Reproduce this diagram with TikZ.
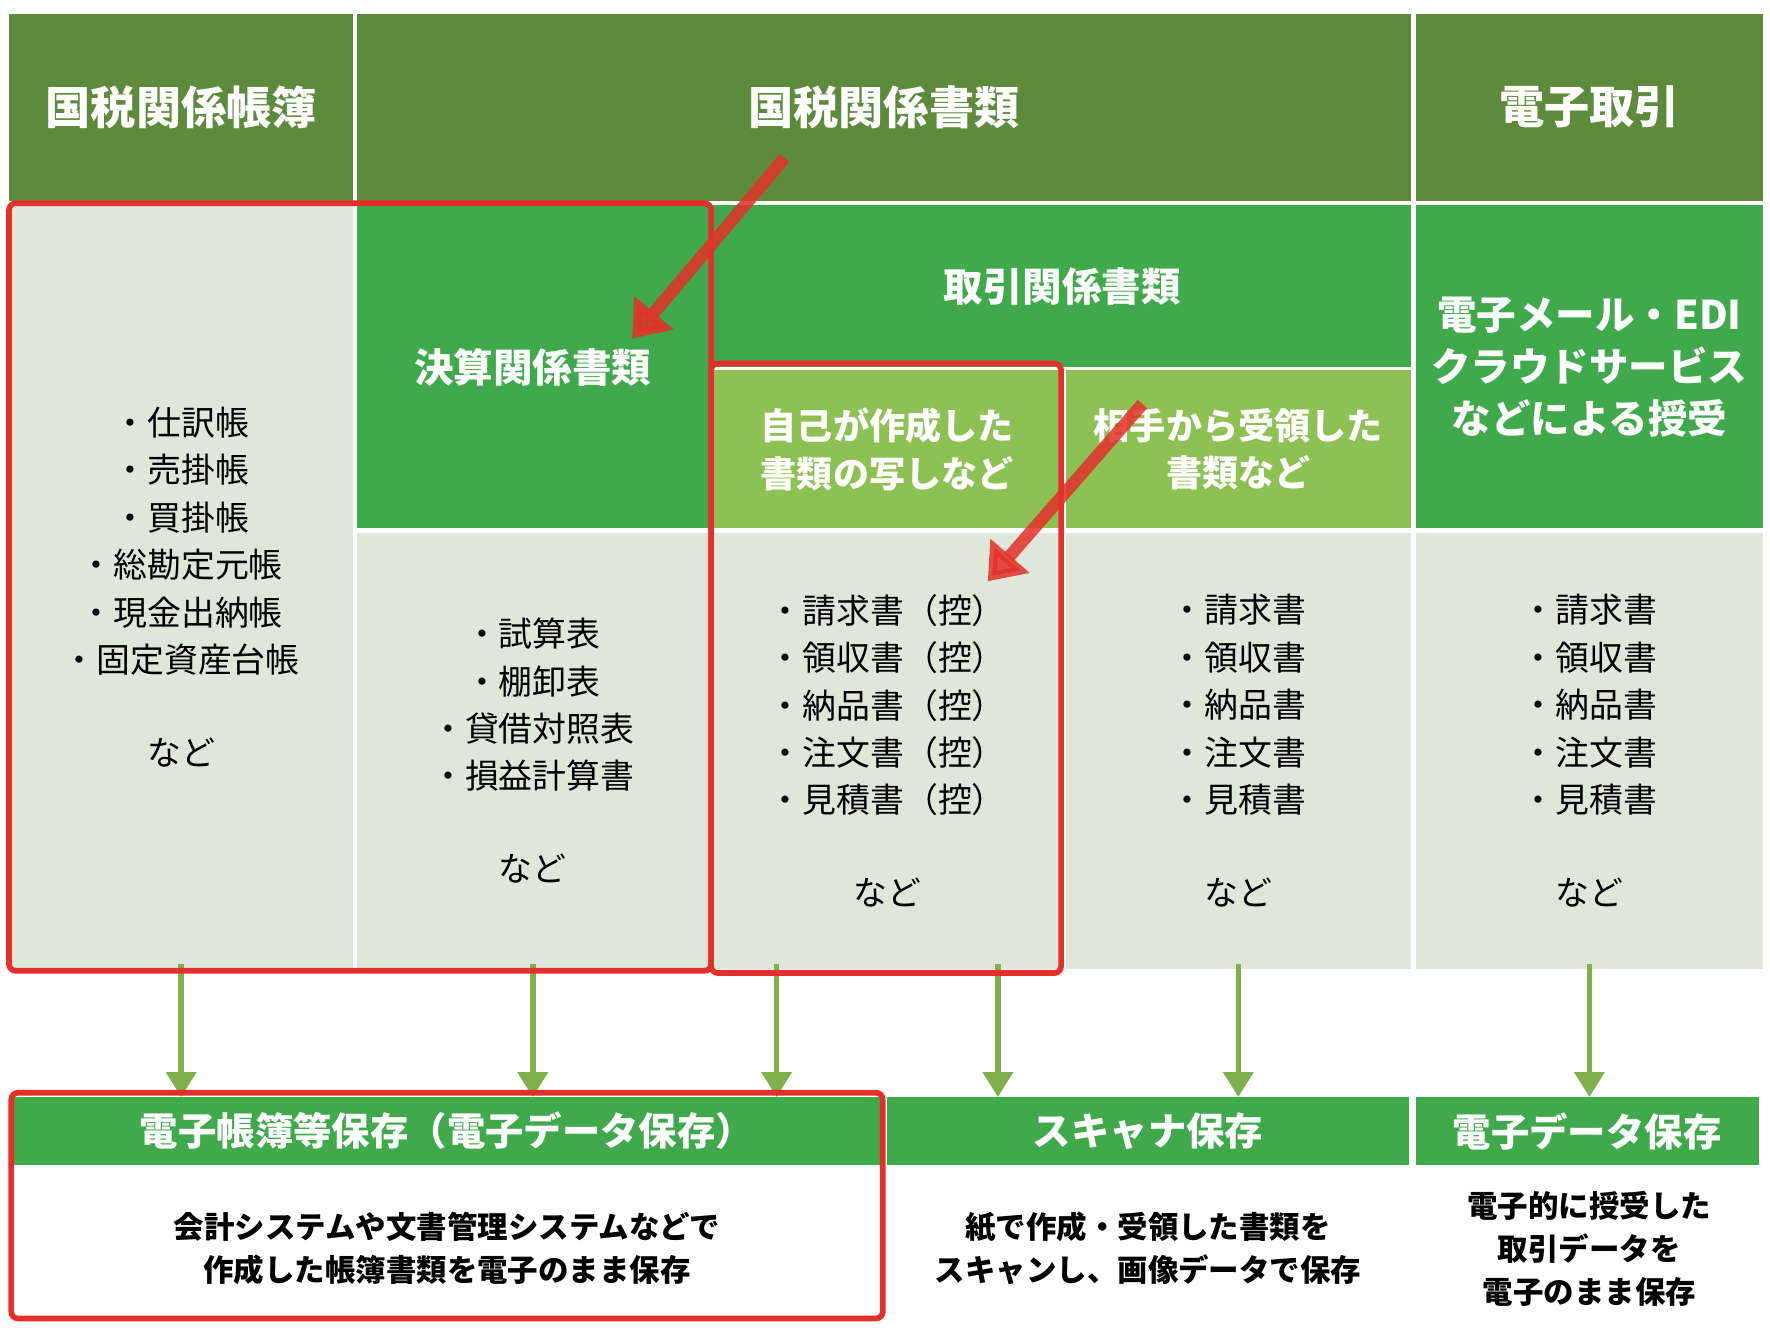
\documentclass[tikz,border=0pt]{standalone}
\usepackage{fontspec}
\setmainfont{Noto Sans CJK JP}
\usepackage{tikz}
\usetikzlibrary{calc,arrows.meta,positioning}
\definecolor{hdgreen}{HTML}{5E8A3C}
\definecolor{midgreen}{HTML}{3FA94B}
\definecolor{ltgreen}{HTML}{8DC153}
\definecolor{cellgray}{HTML}{DFE8D8}
\definecolor{flowgreen}{HTML}{7FB04C}
\definecolor{markred}{HTML}{E3302A}

\begin{document}
\begin{tikzpicture}[x=1pt,y=-1pt,
	cell/.style={inner sep=0pt,align=center,fill=cellgray,font=\fontsize{30}{42}\selectfont},
	head/.style={inner sep=0pt,align=center,fill=hdgreen,text=white,font=\fontsize{40}{48}\selectfont\bfseries},
	grp/.style={inner sep=0pt,align=center,fill=midgreen,text=white,font=\fontsize{35}{46}\selectfont\bfseries},
	sub/.style={inner sep=0pt,align=center,fill=ltgreen,text=white,font=\fontsize{32}{42}\selectfont\bfseries},
	note/.style={inner sep=0pt,align=center,font=\fontsize{27}{38}\selectfont\bfseries},
	flow/.style={flowgreen,line width=5pt,-{Triangle[length=22pt,width=26pt]}},
	redbox/.style={markred,line width=5pt,rounded corners=6pt},
	redarrow/.style={markred,line width=11pt,opacity=0.85,-{Triangle[length=30pt,width=44pt]}}]
	\useasboundingbox[fill=white] (0,0) rectangle (1568,1185);
	% header row
	\node[head,minimum width=305pt,minimum height=166pt] (h1) at (160.5,95) {国税関係帳簿};
	\node[head,minimum width=934pt,minimum height=166pt] (h2) at (783,95) {国税関係書類};
	\node[head,minimum width=308pt,minimum height=166pt] (h3) at (1408,95) {電子取引};
	% second row
	\node[cell,minimum width=305pt,minimum height=676pt] (c1) at (160.5,520)
		{・仕訳帳\\・売掛帳\\・買掛帳\\・総勘定元帳\\・現金出納帳\\・固定資産台帳\\[40pt]など};
	\node[grp,minimum width=312pt,minimum height=286pt] (d1) at (472,325) {決算関係書類};
	\node[grp,minimum width=618pt,minimum height=143pt] (t1) at (941,253.5) {取引関係書類};
	\node[sub,minimum width=308pt,minimum height=140pt] (s1) at (786,398) {自己が作成した\\書類の写しなど};
	\node[sub,minimum width=306pt,minimum height=140pt] (s2) at (1097,398) {相手から受領した\\書類など};
	\node[grp,minimum width=308pt,minimum height=286pt] (e1) at (1408,325) {電子メール・EDI\\クラウドサービス\\などによる授受};
	% body cells
	\node[cell,minimum width=312pt,minimum height=386pt] (b2) at (472,665)
		{・試算表\\・棚卸表\\・貸借対照表\\・損益計算書\\[40pt]など};
	\node[cell,minimum width=308pt,minimum height=386pt] (b3) at (786,665)
		{・請求書（控）\\・領収書（控）\\・納品書（控）\\・注文書（控）\\・見積書（控）\\[40pt]など};
	\node[cell,minimum width=306pt,minimum height=386pt] (b4) at (1097,665)
		{・請求書\\・領収書\\・納品書\\・注文書\\・見積書\\[40pt]など};
	\node[cell,minimum width=308pt,minimum height=386pt] (b5) at (1408,665)
		{・請求書\\・領収書\\・納品書\\・注文書\\・見積書\\[40pt]など};
	% storage banners
	\node[head,fill=midgreen,font=\fontsize{34}{40}\selectfont\bfseries,minimum width=768pt,minimum height=60pt] (p1) at (396,1002) {電子帳簿等保存（電子データ保存）};
	\node[head,fill=midgreen,font=\fontsize{34}{40}\selectfont\bfseries,minimum width=462pt,minimum height=60pt] (p2) at (1017,1002) {スキャナ保存};
	\node[head,fill=midgreen,font=\fontsize{34}{40}\selectfont\bfseries,minimum width=304pt,minimum height=60pt] (p3) at (1406,1002) {電子データ保存};
	\node[note] (n1) at (396,1106) {会計システムや文書管理システムなどで\\作成した帳簿書類を電子のまま保存};
	\node[note] (n2) at (1017,1106) {紙で作成・受領した書類を\\スキャンし、画像データで保存};
	\node[note] (n3) at (1408,1106) {電子的に授受した\\取引データを\\電子のまま保存};
	% flow arrows
	\draw[flow] ([yshift=4pt]c1.south) -- (c1.south |- p1.north);
	\draw[flow] ([yshift=4pt]b2.south) -- (b2.south |- p1.north);
	\draw[flow] ([xshift=-98pt,yshift=4pt]b3.south) -- ([xshift=-98pt]b3.south |- p1.north);
	\draw[flow] ([xshift=98pt,yshift=4pt]b3.south) -- ([xshift=98pt]b3.south |- p2.north);
	\draw[flow] ([yshift=4pt]b4.south) -- (b4.south |- p2.north);
	\draw[flow] ([yshift=4pt]b5.south) -- (b5.south |- p3.north);
	% red marks
	\draw[redbox] (8,180) rectangle (630,860);
	\draw[redbox] (630,322) rectangle (940,862);
	\draw[redbox] (10,968) rectangle (782,1168);
	\coordinate (r1) at (695,140);
	\coordinate (r2) at (1012,358);
	\draw[redarrow] (r1) -- (560,300);
	\draw[redarrow] (r2) -- (875,515);
\end{tikzpicture}
\end{document}
